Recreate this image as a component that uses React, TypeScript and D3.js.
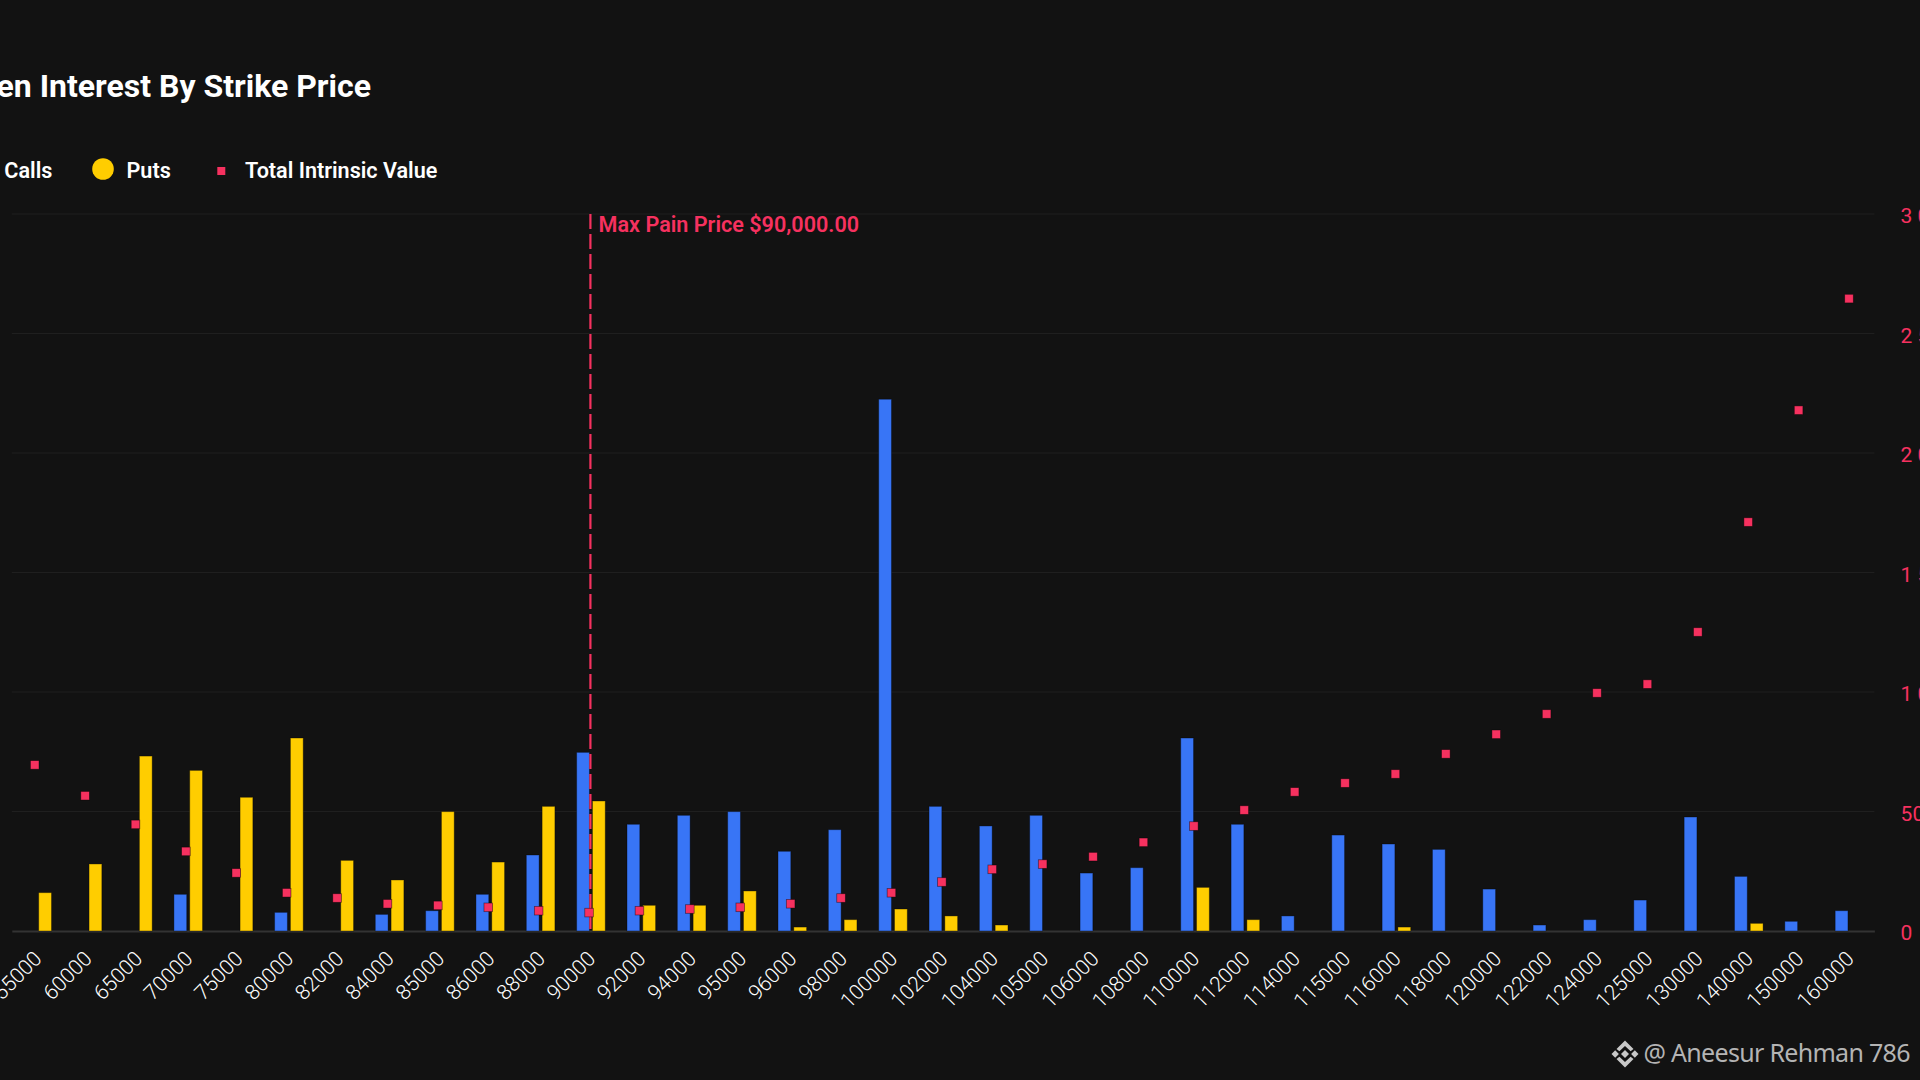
import React, { useRef, useEffect } from 'react';
import * as d3 from 'd3';

const strikes = [
  '55000', '60000', '65000', '70000', '75000', '80000', '82000', '84000', '85000', '86000',
  '88000', '90000', '92000', '94000', '95000', '96000', '98000', '100000', '102000', '104000',
  '105000', '106000', '108000', '110000', '112000', '114000', '115000', '116000', '118000', '120000',
  '122000', '124000', '125000', '130000', '140000', '150000', '160000'
];

// left axis is cropped off in the reference, values are read relative to the grid (100 = one grid step)
const calls = [
  0, 0, 0, 30.7, 0, 15.6, 0, 13.9, 17, 30.7,
  63.6, 149.5, 89.3, 96.8, 99.9, 66.7, 84.8, 445, 104.3, 87.9,
  96.8, 48.5, 53, 161.5, 89.3, 12.6, 80.3, 72.8, 68.3, 35.1,
  5, 9.5, 25.9, 95.4, 45.7, 8.1, 17
];

const puts = [
  32.1, 56.1, 146.4, 134.4, 111.9, 161.5, 59.1, 42.7, 99.9, 57.7,
  104.3, 108.8, 21.5, 21.5, 33.5, 3.3, 9.5, 18.4, 12.6, 5,
  0, 0, 0, 36.5, 9.5, 0, 0, 3.3, 0, 0,
  0, 0, 0, 0, 6.4, 0, 0
];

const intrinsic = [
  695, 566, 446, 333, 243, 160, 138, 114, 107, 99,
  85, 77, 85, 92, 99, 114, 138, 160, 205, 258,
  280, 311, 371, 439, 506, 582, 619, 657, 741, 823,
  908, 996, 1033, 1251, 1711, 2179, 2646
];

const rightTicks = [0, 500, 1000, 1500, 2000, 2500, 3000];
const maxPainStrike = '90000';

const BG = '#121212';
const BLUE = '#3875f6';
const YELLOW = '#ffcd00';
const PINK = '#f6315f';

const WIDTH = 1920;
const HEIGHT = 1080;

export default function App() {
  const svgRef = useRef<SVGSVGElement>(null);

  useEffect(() => {
    if (!svgRef.current) return;
    document.body.style.margin = '0';
    document.body.style.background = BG;

    const svg = d3.select(svgRef.current);
    svg.selectAll('*').remove();

    const left = 11.8;
    const right = 1874.4;
    const top = 214;
    const bottom = 931;

    const x = d3.scaleBand().domain(strikes).range([left, right]);
    const xSub = d3.scaleBand().domain(['calls', 'puts']).range([11.1, 39.7]).paddingInner(0.19);
    const markerX = d3.scalePoint().domain(strikes).range([34.7, 1849]);
    const yLeft = d3.scaleLinear().domain([0, 600]).range([bottom, top]);
    const yRight = d3.scaleLinear().domain([0, 3000]).range([bottom, top]);

    svg.append('rect').attr('width', WIDTH).attr('height', HEIGHT).attr('fill', BG);

    // Grid lines
    svg.append('g')
      .selectAll('line')
      .data(rightTicks.slice(1))
      .enter().append('line')
      .attr('x1', left)
      .attr('x2', right)
      .attr('y1', d => yRight(d))
      .attr('y2', d => yRight(d))
      .attr('stroke', '#1f1f1f')
      .attr('stroke-width', 1.2);

    // Baseline and rotated strike labels
    const xAxis = d3.axisBottom(x).tickSize(0).tickPadding(0);
    const xG = svg.append('g')
      .attr('transform', `translate(0,${bottom})`)
      .call(xAxis);
    xG.select('.domain').attr('stroke', '#333333').attr('stroke-width', 2);
    xG.selectAll('text')
      .attr('fill', '#ffffff')
      .attr('font-family', 'Roboto, sans-serif')
      .attr('font-weight', 300)
      .attr('font-size', 21)
      .attr('text-anchor', 'end')
      .attr('dy', 0)
      .attr('y', 0)
      .attr('transform', 'translate(6,29) rotate(-45)');

    // Right axis
    const yAxis = d3.axisRight(yRight)
      .tickValues(rightTicks)
      .tickSize(0)
      .tickPadding(0)
      .tickFormat(d => d3.format(',')(d as number).replace(',', '\u00a0'));
    const yG = svg.append('g')
      .attr('transform', 'translate(1900.6,0)')
      .call(yAxis);
    yG.select('.domain').remove();
    yG.selectAll('text')
      .attr('fill', PINK)
      .attr('font-family', 'Roboto, sans-serif')
      .attr('font-weight', 400)
      .attr('font-size', 21)
      .attr('dy', '0.42em');

    // Bars
    const drawBars = (key: 'calls' | 'puts', values: number[], color: string) => {
      svg.append('g')
        .selectAll('rect')
        .data(strikes.map((s, i) => ({ s, v: values[i] })).filter(d => d.v > 0))
        .enter().append('rect')
        .attr('x', d => (x(d.s) as number) + (xSub(key) as number))
        .attr('y', d => yLeft(d.v))
        .attr('width', xSub.bandwidth())
        .attr('height', d => bottom - yLeft(d.v))
        .attr('fill', color)
        .attr('stroke', 'rgba(0,0,0,0.35)')
        .attr('stroke-width', 1);
    };
    drawBars('calls', calls, BLUE);
    drawBars('puts', puts, YELLOW);

    // Max pain line
    const painX = (x(maxPainStrike) as number) + x.bandwidth() / 2 - 0.3;
    svg.append('line')
      .attr('x1', painX)
      .attr('x2', painX)
      .attr('y1', top)
      .attr('y2', bottom)
      .attr('stroke', PINK)
      .attr('stroke-width', 2.2)
      .attr('stroke-dasharray', '15 5');
    svg.append('text')
      .attr('x', painX + 8.2)
      .attr('y', 232)
      .attr('fill', PINK)
      .attr('font-family', 'Roboto, sans-serif')
      .attr('font-weight', 600)
      .attr('font-size', 21.6)
      .text('Max Pain Price $90,000.00');

    // Total intrinsic value markers
    const sq = 8.6;
    svg.append('g')
      .selectAll('rect')
      .data(strikes.map((s, i) => ({ s, v: intrinsic[i] })))
      .enter().append('rect')
      .attr('x', d => (markerX(d.s) as number) - sq / 2)
      .attr('y', d => yRight(d.v) - sq / 2)
      .attr('width', sq)
      .attr('height', sq)
      .attr('fill', PINK)
      .attr('stroke', 'rgba(0,0,0,0.5)')
      .attr('stroke-width', 0.8);

    // Title (starts off the left edge)
    svg.append('text')
      .attr('x', 371)
      .attr('y', 97)
      .attr('text-anchor', 'end')
      .attr('fill', '#ffffff')
      .attr('font-family', 'Roboto, sans-serif')
      .attr('font-weight', 700)
      .attr('font-size', 32)
      .text('Open Interest By Strike Price');

    // Legend (the Calls dot sits off the left edge)
    const legendFont = (t: d3.Selection<SVGTextElement, unknown, null, undefined>) =>
      t.attr('y', 178)
        .attr('fill', '#ffffff')
        .attr('font-family', 'Roboto, sans-serif')
        .attr('font-weight', 600)
        .attr('font-size', 21.6);
    svg.append('circle').attr('cx', -19.5).attr('cy', 169).attr('r', 10.8).attr('fill', BLUE);
    legendFont(svg.append('text').attr('x', 52.4).attr('text-anchor', 'end')).text('Calls');
    svg.append('circle').attr('cx', 103).attr('cy', 169).attr('r', 10.8).attr('fill', YELLOW);
    legendFont(svg.append('text').attr('x', 126.5)).text('Puts');
    svg.append('rect').attr('x', 217.3).attr('y', 167).attr('width', 8).attr('height', 8).attr('fill', PINK);
    legendFont(svg.append('text').attr('x', 245)).text('Total Intrinsic Value');

    // Watermark with the exchange logo
    const logo = svg.append('g')
      .attr('transform', 'translate(1625,1054)')
      .attr('fill', '#c8c8c8');
    logo.append('path').attr('d', 'M0,-4 L4,0 L0,4 L-4,0 Z');
    logo.append('path').attr('d', 'M-13.5,0 L-9.8,-3.7 L-6.1,0 L-9.8,3.7 Z');
    logo.append('path').attr('d', 'M13.5,0 L9.8,-3.7 L6.1,0 L9.8,3.7 Z');
    logo.append('path').attr('d', 'M0,-13.5 L8.5,-5 L5.6,-2.8 L0,-8 L-5.6,-2.8 L-8.5,-5 Z');
    logo.append('path').attr('d', 'M0,13.5 L8.5,5 L5.6,2.8 L0,8 L-5.6,2.8 L-8.5,5 Z');
    svg.append('text')
      .attr('x', 1643.5)
      .attr('y', 1062)
      .attr('fill', '#b4b4b4')
      .attr('font-family', '"Noto Sans", sans-serif')
      .attr('font-size', 25)
      .attr('textLength', 267)
      .text('@ Aneesur Rehman 786');
  }, []);

  return (
    <svg
      ref={svgRef}
      width={WIDTH}
      height={HEIGHT}
      style={{ position: 'absolute', left: 0, top: 0, display: 'block' }}
    />
  );
}
